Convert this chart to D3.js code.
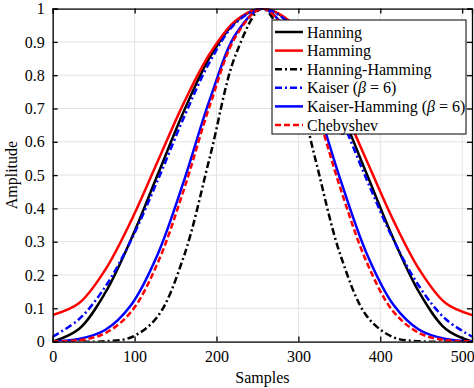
<!DOCTYPE html>
<html>
<head>
<meta charset="utf-8">
<script src="https://cdn.jsdelivr.net/npm/d3@7"></script>
<style>
  body { margin: 0; background: #fff; }
  text { font-family: "Liberation Serif", "Times New Roman", serif; fill: #000; }
</style>
</head>
<body>
<div id="chart"></div>
<script>
// sample positions (every 32 samples, window length 512)
const samples = [0, 32, 64, 96, 128, 160, 192, 224, 256, 288, 320, 352, 384, 416, 448, 480, 512];

// amplitudes
const hanning    = [0, 0.038, 0.146, 0.309, 0.5, 0.691, 0.854, 0.962, 1, 0.962, 0.854, 0.691, 0.5, 0.309, 0.146, 0.038, 0];
const hamming    = [0.08, 0.115, 0.215, 0.364, 0.54, 0.716, 0.865, 0.965, 1, 0.965, 0.865, 0.716, 0.54, 0.364, 0.215, 0.115, 0.08];
const hannHamm   = [0, 0, 0.001, 0.013, 0.075, 0.255, 0.555, 0.865, 1, 0.865, 0.555, 0.255, 0.075, 0.013, 0.001, 0, 0];
const kaiser     = [0.015, 0.067, 0.164, 0.306, 0.483, 0.672, 0.841, 0.958, 1, 0.958, 0.841, 0.672, 0.483, 0.306, 0.164, 0.067, 0.015];
const kaiserHamm = [0.001, 0.008, 0.035, 0.111, 0.261, 0.481, 0.728, 0.925, 1, 0.925, 0.728, 0.481, 0.261, 0.111, 0.035, 0.008, 0.001];
const chebyshev  = [0.001, 0.004, 0.025, 0.09, 0.235, 0.455, 0.71, 0.918, 1, 0.918, 0.71, 0.455, 0.235, 0.09, 0.025, 0.004, 0.001];

const xTicks = [0, 100, 200, 300, 400, 500];
const yTicks = [0, 0.1, 0.2, 0.3, 0.4, 0.5, 0.6, 0.7, 0.8, 0.9, 1];

const series = [
    { name: "Hanning", values: hanning, color: "#000000", dash: null },
    { name: "Hamming", values: hamming, color: "#ff0000", dash: null },
    { name: "Hanning-Hamming", values: hannHamm, color: "#000000", dash: "7,3,2,3" },
    { name: "Kaiser", beta: true, values: kaiser, color: "#0000ff", dash: "7,3,2,3" },
    { name: "Kaiser-Hamming", beta: true, values: kaiserHamm, color: "#0000ff", dash: null },
    { name: "Chebyshev", values: chebyshev, color: "#ff0000", dash: "6,3" }
];

const W = 474, H = 388;
const margin = { top: 8.6, right: 2, bottom: 46.4, left: 52.7 };
const width = W - margin.left - margin.right;
const height = H - margin.top - margin.bottom;

const svg = d3.select("#chart").append("svg")
    .attr("width", W)
    .attr("height", H);

const g = svg.append("g")
    .attr("transform", "translate(" + margin.left + "," + margin.top + ")");

const x = d3.scaleLinear().domain([0, 512]).range([0, width]);
const y = d3.scaleLinear().domain([0, 1]).range([height, 0]);

// grid
g.append("g").selectAll("line")
    .data(xTicks)
    .enter().append("line")
    .attr("x1", d => x(d)).attr("x2", d => x(d))
    .attr("y1", 0).attr("y2", height)
    .attr("stroke", "#e3e3e3");
g.append("g").selectAll("line")
    .data(yTicks)
    .enter().append("line")
    .attr("x1", 0).attr("x2", width)
    .attr("y1", d => y(d)).attr("y2", d => y(d))
    .attr("stroke", "#e3e3e3");

g.append("clipPath").attr("id", "clip")
    .append("rect").attr("width", width).attr("height", height);

// curves
const line = d3.line()
    .x((d, i) => x(samples[i]))
    .y(d => y(d))
    .curve(d3.curveCatmullRom.alpha(0.5));

g.append("g").attr("clip-path", "url(#clip)")
    .selectAll("path")
    .data(series)
    .enter().append("path")
    .attr("d", d => line(d.values))
    .attr("fill", "none")
    .attr("stroke", d => d.color)
    .attr("stroke-width", 2.5)
    .attr("stroke-dasharray", d => d.dash);

// axes (box with inward ticks on all sides)
const tickLen = 5;
g.append("g")
    .attr("transform", "translate(0," + height + ")")
    .call(d3.axisBottom(x).tickValues(xTicks).tickSize(-tickLen).tickPadding(9).tickFormat(d3.format("d")));
g.append("g")
    .call(d3.axisTop(x).tickValues(xTicks).tickSize(-tickLen).tickFormat(""));
g.append("g")
    .call(d3.axisLeft(y).tickValues(yTicks).tickSize(-tickLen).tickPadding(8).tickFormat(d => d === 0 || d === 1 ? d : d3.format(".1f")(d)));
g.append("g")
    .attr("transform", "translate(" + width + ",0)")
    .call(d3.axisRight(y).tickValues(yTicks).tickSize(-tickLen).tickFormat(""));

g.selectAll(".domain").attr("stroke", "#000").attr("stroke-width", 1.3);
g.selectAll(".tick line").attr("stroke", "#000").attr("stroke-width", 1.3);
g.selectAll(".tick text")
    .style("font-family", "'Liberation Serif', serif")
    .style("font-size", "16px")
    .attr("fill", "#000");

// axis titles
svg.append("text")
    .attr("x", margin.left + width / 2)
    .attr("y", 383)
    .attr("text-anchor", "middle")
    .style("font-size", "16px")
    .text("Samples");

svg.append("text")
    .attr("transform", "rotate(-90)")
    .attr("x", -(margin.top + height / 2))
    .attr("y", 17)
    .attr("text-anchor", "middle")
    .style("font-size", "16px")
    .text("Amplitude");

// legend
const legend = svg.append("g").attr("transform", "translate(272,20)");
legend.append("rect")
    .attr("width", 194)
    .attr("height", 114)
    .attr("fill", "#fff")
    .attr("stroke", "#000")
    .attr("stroke-width", 1);

const item = legend.selectAll(".item")
    .data(series)
    .enter().append("g")
    .attr("class", "item")
    .attr("transform", (d, i) => "translate(0," + (12 + i * 18.6) + ")");

item.append("line")
    .attr("x1", 3).attr("x2", 31)
    .attr("y1", 0).attr("y2", 0)
    .attr("stroke", d => d.color)
    .attr("stroke-width", 2.5)
    .attr("stroke-dasharray", d => d.dash);

const label = item.append("text")
    .attr("x", 35)
    .attr("y", 5.5)
    .style("font-size", "16px");
label.append("tspan").text(d => d.name);
label.filter(d => d.beta).append("tspan").text(" (");
label.filter(d => d.beta).append("tspan").style("font-style", "italic").text("β");
label.filter(d => d.beta).append("tspan").text(" = 6)");
</script>
</body>
</html>
